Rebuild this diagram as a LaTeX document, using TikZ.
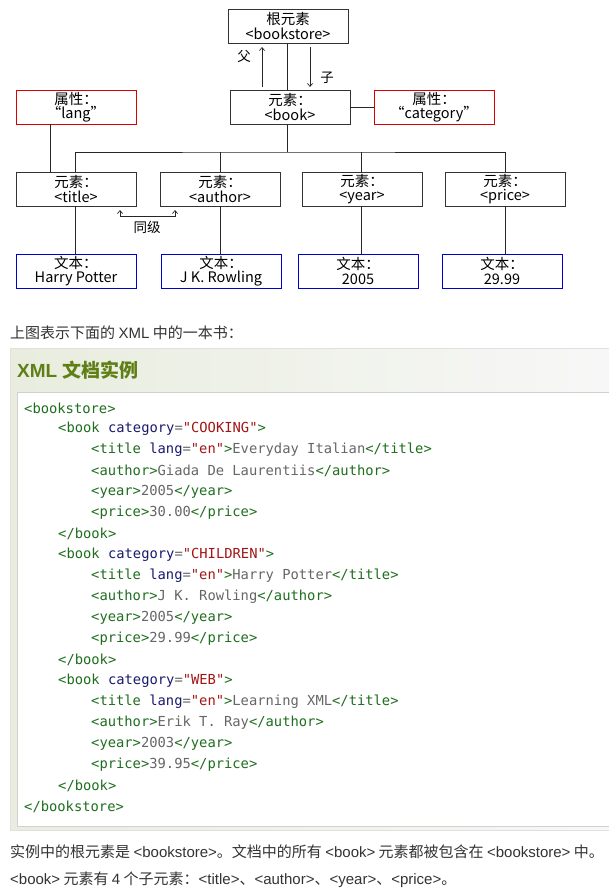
\documentclass[tikz,border=0pt]{standalone}
\usepackage{fontspec}
\setmainfont{Liberation Sans}
\setmonofont{DejaVu Sans Mono}
\newfontfamily\cjk{Noto Sans CJK SC}
\usetikzlibrary{arrows.meta}
\definecolor{tagc}{HTML}{1F6E1F}
\definecolor{attc}{HTML}{1A1A6E}
\definecolor{valc}{HTML}{A31515}
\definecolor{txtc}{HTML}{666666}
\definecolor{headc}{HTML}{5F7F16}
\newcommand\xT[1]{\textcolor{tagc}{#1}}
\newcommand\xA[1]{\textcolor{attc}{#1}}
\newcommand\xV[1]{\textcolor{valc}{#1}}
\newcommand\xX[1]{\textcolor{txtc}{#1}}
\newcommand\lat[1]{{\fontspec{Liberation Sans}#1}}
\begin{document}
\begin{tikzpicture}[x=1pt,y=-1pt,
  box/.style={draw=black!80,line width=0.8pt,minimum width=120pt,minimum height=34pt,align=center,inner sep=0pt,font=\fontsize{14.5}{14.5}\selectfont\cjk},
  rbox/.style={box,draw=red!85!black},
  bbox/.style={box,draw=blue!80!black},
  ln/.style={line width=0.7pt,black!85},
  code/.style={anchor=west,inner sep=0pt,font=\fontsize{13.8}{16}\selectfont\ttfamily},
  para/.style={anchor=west,inner sep=0pt,font=\fontsize{15}{17}\selectfont\cjk,text=black!80}]
\useasboundingbox (0,0) rectangle (609,896);
\fill[white] (0,0) rectangle (609,896);
% diagram
\node[box] (root) at (288,26) {根元素\\<bookstore>};
\node[box] (book) at (290,107) {元素：\\<book>};
\node[rbox] (lang) at (76,107) {属性：\\“lang”};
\node[rbox] (cat) at (434,107) {属性：\\“category”};
\node[box] (title) at (76,189) {元素：\\<title>};
\node[box] (author) at (220,189) {元素：\\<author>};
\node[box] (year) at (362,189) {元素：\\<year>};
\node[box] (price) at (505,189) {元素：\\<price>};
\node[bbox] (t1) at (76,271) {文本：\\Harry Potter};
\node[bbox] (t2) at (221,271) {文本：\\J K. Rowling};
\node[bbox] (t3) at (358,271) {文本：\\2005};
\node[bbox] (t4) at (502,271) {文本：\\29.99};
\draw[ln] (root.south -| 287,0) -- (book.north -| 287,0);
\draw[ln] (book.east) -- (cat.west);
\coordinate (bus) at (287,152);
\draw[ln] (book.south -| bus) -- (bus);
\draw[ln] (title.north -| 75,0) |- (bus) -| (price.north -| 505,0);
\draw[ln] (author.north -| 220,0) -- (220,152);
\draw[ln] (year.north -| 361,0) -- (361,152);
\draw[ln] (lang.south -| 50,0) -- (title.north -| 50,0);
\draw[ln] (title.south -| 75,0) -- (t1.north -| 75,0);
\draw[ln] (author.south -| 220,0) -- (t2.north -| 220,0);
\draw[ln] (year.south -| 361,0) -- (t3.north -| 361,0);
\draw[ln] (price.south -| 505,0) -- (t4.north -| 505,0);
\coordinate (pa) at (262,87); \coordinate (pb) at (262,47);
\draw[ln,-{Straight Barb[length=3pt,width=5pt]}] (pa) -- (pb);
\node[font=\fontsize{13.5}{14}\selectfont\cjk] (fu) at (244,56) {父};
\coordinate (ca) at (310,47); \coordinate (cb) at (310,87);
\draw[ln,-{Straight Barb[length=3pt,width=5pt]}] (ca) -- (cb);
\node[font=\fontsize{13.5}{14}\selectfont\cjk] (zi) at (327,78) {子};
\coordinate (s1) at (120,210); \coordinate (s2) at (175,210);
\draw[ln,{Straight Barb[length=3pt,width=5pt]}-{Straight Barb[length=3pt,width=5pt]}] (s1) -- ++(0,6) -| (s2);
\node[font=\fontsize{13.5}{14}\selectfont\cjk] (tj) at (147,227) {同级};
% text
\node[para] (p0) at (10,333) {上图表示下面的 \lat{XML} 中的一本书：};
\fill[left color=headc!14,right color=black!3,draw=black!12] (10,348) rectangle (612,830);
\node[anchor=west,inner sep=0pt,text=headc,font=\fontsize{19}{20}\selectfont\bfseries] (hd) at (17,370) {XML {\cjk\bfseries 文档实例}};
\fill[white,draw=black!18] (17,392) rectangle (612,826);
\begin{scope}[every node/.style={code}]
\node (c1) at (24,408) {\xT{<bookstore>}};
\node (c2) at (58,429) {\xT{<book} \xA{category}\xX{=}\xV{"COOKING"}\xT{>}};
\node (c3) at (91,450) {\xT{<title} \xA{lang}\xX{=}\xV{"en"}\xT{>}\xX{Everyday Italian}\xT{</title>}};
\node (c4) at (91,471) {\xT{<author>}\xX{Giada De Laurentiis}\xT{</author>}};
\node (c5) at (91,492) {\xT{<year>}\xX{2005}\xT{</year>}};
\node (c6) at (91,513) {\xT{<price>}\xX{30.00}\xT{</price>}};
\node (c7) at (58,534) {\xT{</book>}};
\node (c8) at (58,555) {\xT{<book} \xA{category}\xX{=}\xV{"CHILDREN"}\xT{>}};
\node (c9) at (91,576) {\xT{<title} \xA{lang}\xX{=}\xV{"en"}\xT{>}\xX{Harry Potter}\xT{</title>}};
\node (c10) at (91,597) {\xT{<author>}\xX{J K. Rowling}\xT{</author>}};
\node (c11) at (91,618) {\xT{<year>}\xX{2005}\xT{</year>}};
\node (c12) at (91,639) {\xT{<price>}\xX{29.99}\xT{</price>}};
\node (c13) at (58,660) {\xT{</book>}};
\node (c14) at (58,681) {\xT{<book} \xA{category}\xX{=}\xV{"WEB"}\xT{>}};
\node (c15) at (91,702) {\xT{<title} \xA{lang}\xX{=}\xV{"en"}\xT{>}\xX{Learning XML}\xT{</title>}};
\node (c16) at (91,723) {\xT{<author>}\xX{Erik T. Ray}\xT{</author>}};
\node (c17) at (91,744) {\xT{<year>}\xX{2003}\xT{</year>}};
\node (c18) at (91,765) {\xT{<price>}\xX{39.95}\xT{</price>}};
\node (c19) at (58,786) {\xT{</book>}};
\node (c20) at (24,807) {\xT{</bookstore>}};
\end{scope}
\node[para] (p1) at (10,852) {实例中的根元素是 \lat{<bookstore>}。文档中的所有 \lat{<book>} 元素都被包含在 \lat{<bookstore>} 中。};
\node[para] (p2) at (10,880) {\lat{<book>} 元素有 \lat{4} 个子元素：\lat{<title>}、\lat{<author>}、\lat{<year>}、\lat{<price>}。};
\end{tikzpicture}
\end{document}
